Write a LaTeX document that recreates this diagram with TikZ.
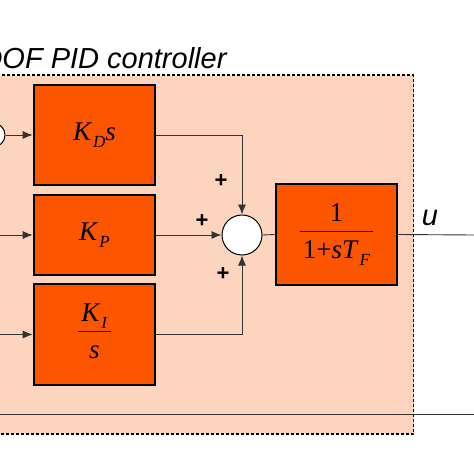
\documentclass[tikz,border=0pt]{standalone}
\usepackage{fontspec}
\setmainfont{Liberation Serif}
\newfontfamily\labelfont{Liberation Sans}
\usetikzlibrary{arrows.meta,positioning}
\definecolor{boxfill}{RGB}{252,85,0}
\definecolor{panelfill}{RGB}{253,213,191}
\newcommand{\subsc}[1]{\kern1pt\raisebox{-7pt}{\fontsize{17}{17}\selectfont\textit{#1}}}
\newcommand{\blkfont}{\fontsize{27}{27}\selectfont}
\newcommand{\blkfrac}[2]{\setlength{\arrayrulewidth}{1.3pt}%
  \begin{tabular}{@{\hspace{3pt}}c@{\hspace{3pt}}}#1\rule[-9pt]{0pt}{9pt}\\\hline\rule{0pt}{26pt}#2\end{tabular}}

\tikzset{
  blockbox/.style={draw=black, line width=2.6, fill=boxfill, minimum width=121, inner sep=0pt, font=\blkfont},
  sumnode/.style={circle, draw=black, line width=1, fill=white, minimum size=40, inner sep=0pt},
  sigline/.style={draw=black!80, line width=0.9},
  sigarrow/.style={sigline, -{Latex[length=10pt,width=8pt]}},
  signlabel/.style={font=\labelfont\bfseries\fontsize{22}{22}\selectfont},
}

\begin{document}
\begin{tikzpicture}[x=1pt,y=-1pt]
        \useasboundingbox (0,0) rectangle (474,474);
        % Controller panel
        \draw[dash pattern=on 3pt off 2pt, line width=1.4, fill=panelfill] (-5,75) rectangle (413.5,434);
        \node[anchor=base east, font=\labelfont\itshape\fontsize{29}{29}\selectfont] (title) at (230,68) {2-DOF PID controller};
        % Blocks
        \node[blockbox, minimum height=100] (kd) at (94.5,135) {\textit{K}\subsc{D}\textit{s}};
        \node[blockbox, minimum height=80] (kp) at (94.5,235) {\textit{K}\subsc{P}};
        \node[blockbox, minimum height=101] (ki) at (94.5,334.5) {\blkfrac{\textit{K}\subsc{I}}{\textit{s}}};
        \node[blockbox, minimum height=101] (filt) at (336.5,234.5) {\blkfrac{1}{1+\textit{sT}\subsc{F}}};
        % Summing junctions
        \node[sumnode] (sum) at (242,235) {};
        \node[sumnode, minimum size=24] (rsum) at (-7,135) {};
        % Signs
        \node[signlabel] (plusd) at (221,181) {+};
        \node[signlabel] (plusp) at (202,221) {+};
        \node[signlabel] (plusi) at (223,274) {+};
        % Inputs
        \coordinate (inp) at (0,235);
        \coordinate (ini) at (0,334.5);
        \draw[sigarrow] (rsum) -- (kd.west);
        \draw[sigarrow] (inp) -- (kp.west);
        \draw[sigarrow] (ini) -- (ki.west);
        % Branches into the sum
        \draw[sigarrow] (kd.east) -| (sum.north);
        \draw[sigarrow] (kp.east) -- (sum.west);
        \draw[sigarrow] (ki.east) -| (sum.south);
        % Output
        \coordinate (uout) at (474,235);
        \draw[sigline] (sum.east) -- (filt.west);
        \draw[sigline] (filt.east) -- (uout);
        \node[anchor=base, font=\labelfont\itshape\fontsize{29}{29}\selectfont] (ulabel) at (430,225) {u};
        % Bottom line
        \coordinate (fbl) at (0,414);
        \coordinate (fbr) at (474,414);
        \draw[sigline] (fbl) -- (fbr);
\end{tikzpicture}
\end{document}
